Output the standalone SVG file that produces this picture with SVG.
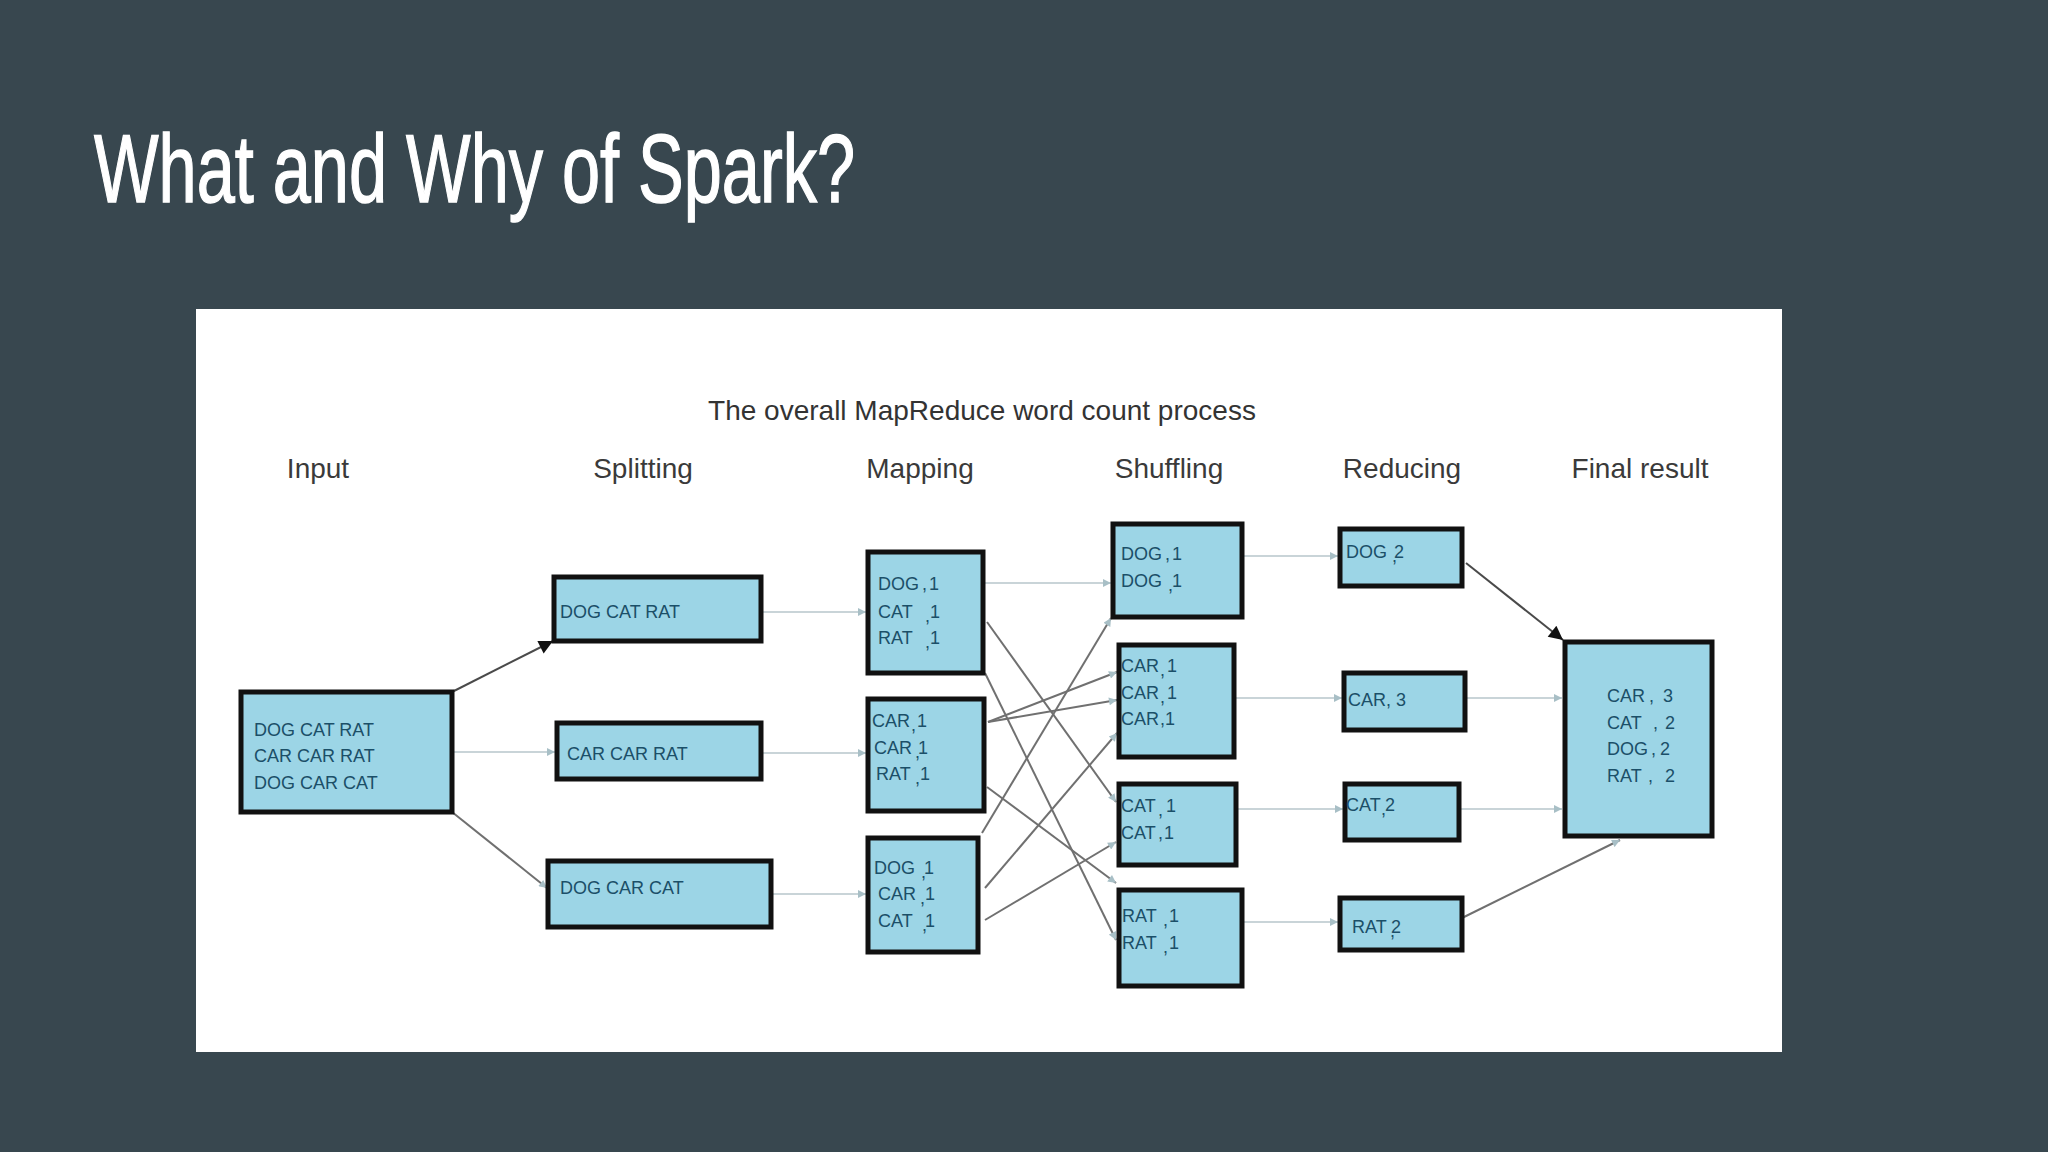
<svg xmlns="http://www.w3.org/2000/svg" width="2048" height="1152" viewBox="0 0 2048 1152">
<style>
.bg{fill:#38474f}
.panel{fill:#ffffff}
.title{font-family:"Liberation Sans",Arial,sans-serif;font-size:97px;fill:#ffffff;stroke:#ffffff;stroke-width:1.4}
.sub{font-family:"Liberation Sans",Arial,sans-serif;font-size:28px;fill:#333333;text-anchor:middle}
.hdr{font-family:"Liberation Sans",Arial,sans-serif;font-size:28px;fill:#3a3a3a;text-anchor:middle}
.box{fill:#9cd5e6;stroke:#111111;stroke-width:5}
.t{font-family:"Liberation Sans",Arial,sans-serif;font-size:18px;fill:#1b4f68}
.lt{stroke:#c9d4d8;stroke-width:2;fill:none}
.dk{stroke:#707070;stroke-width:2;fill:none}
.bk{stroke:#4a4a4a;stroke-width:2;fill:none}
</style>
<defs>
<marker id="ab" viewBox="0 0 10 10" refX="10" refY="5" markerWidth="16" markerHeight="14" markerUnits="userSpaceOnUse" orient="auto">
<path d="M0,0 L10,5 L0,10 z" fill="#111111"/>
</marker>
<marker id="al" viewBox="0 0 10 10" refX="10" refY="5" markerWidth="10" markerHeight="8" markerUnits="userSpaceOnUse" orient="auto">
<path d="M0,0 L10,5 L0,10 z" fill="#a8bfc6"/>
</marker>
</defs>
<rect class="bg" x="0" y="0" width="2048" height="1152"/>
<text class="title" x="94" y="202" textLength="761" lengthAdjust="spacingAndGlyphs">What and Why of Spark?</text>
<rect class="panel" x="196" y="309" width="1586" height="743"/>
<text class="sub" x="982" y="420">The overall MapReduce word count process</text>
<g id="headers">
<text class="hdr" x="318" y="478">Input</text>
<text class="hdr" x="643" y="478">Splitting</text>
<text class="hdr" x="920" y="478">Mapping</text>
<text class="hdr" x="1169" y="478">Shuffling</text>
<text class="hdr" x="1402" y="478">Reducing</text>
<text class="hdr" x="1640" y="478">Final result</text>
</g>
<g id="connectors">
<line class="bk" x1="452" y1="692" x2="553" y2="641" marker-end="url(#ab)"/>
<line class="lt" x1="452" y1="752" x2="555" y2="752" marker-end="url(#al)"/>
<line class="dk" x1="452" y1="812" x2="547" y2="888" marker-end="url(#al)"/>
<line class="lt" x1="762" y1="612" x2="866" y2="612" marker-end="url(#al)"/>
<line class="lt" x1="762" y1="753" x2="866" y2="753" marker-end="url(#al)"/>
<line class="lt" x1="772" y1="894" x2="866" y2="894" marker-end="url(#al)"/>
<line class="lt" x1="985" y1="583" x2="1111" y2="583" marker-end="url(#al)"/>
<line class="dk" x1="987" y1="622" x2="1116" y2="802" marker-end="url(#al)"/>
<line class="dk" x1="985" y1="673" x2="1116" y2="940" marker-end="url(#al)"/>
<line class="dk" x1="988" y1="722" x2="1117" y2="672" marker-end="url(#al)"/>
<line class="dk" x1="988" y1="722" x2="1117" y2="700" marker-end="url(#al)"/>
<line class="dk" x1="987" y1="787" x2="1116" y2="883" marker-end="url(#al)"/>
<line class="dk" x1="982" y1="833" x2="1111" y2="618" marker-end="url(#al)"/>
<line class="dk" x1="985" y1="888" x2="1117" y2="733" marker-end="url(#al)"/>
<line class="dk" x1="985" y1="920" x2="1116" y2="842" marker-end="url(#al)"/>
<line class="lt" x1="1243" y1="556" x2="1338" y2="556" marker-end="url(#al)"/>
<line class="lt" x1="1235" y1="698" x2="1342" y2="698" marker-end="url(#al)"/>
<line class="lt" x1="1237" y1="809" x2="1343" y2="809" marker-end="url(#al)"/>
<line class="lt" x1="1243" y1="922" x2="1338" y2="922" marker-end="url(#al)"/>
<line class="bk" x1="1466" y1="563" x2="1563" y2="640" marker-end="url(#ab)"/>
<line class="lt" x1="1466" y1="698" x2="1562" y2="698" marker-end="url(#al)"/>
<line class="lt" x1="1460" y1="809" x2="1562" y2="809" marker-end="url(#al)"/>
<line class="dk" x1="1462" y1="918" x2="1620" y2="840" marker-end="url(#al)"/>
</g>
<g id="input">
<rect class="box" x="241" y="692" width="211" height="120"/>
<text class="t" x="254" y="736">DOG CAT RAT</text>
<text class="t" x="254" y="762">CAR CAR RAT</text>
<text class="t" x="254" y="789">DOG CAR CAT</text>
</g>
<g id="split1">
<rect class="box" x="554" y="577" width="207" height="64"/>
<text class="t" x="560" y="618">DOG CAT RAT</text>
</g>
<g id="split2">
<rect class="box" x="557" y="723" width="204" height="56"/>
<text class="t" x="567" y="760">CAR CAR RAT</text>
</g>
<g id="split3">
<rect class="box" x="548" y="861" width="223" height="66"/>
<text class="t" x="560" y="894">DOG CAR CAT</text>
</g>
<g id="map1">
<rect class="box" x="868" y="552" width="115" height="121"/>
<text class="t" x="878" y="590">DOG<tspan x="922">,</tspan><tspan x="929">1</tspan></text>
<text class="t" x="878" y="618">CAT<tspan x="925" dy="4">,</tspan><tspan x="930" dy="-4">1</tspan></text>
<text class="t" x="878" y="644">RAT<tspan x="925" dy="4">,</tspan><tspan x="930" dy="-4">1</tspan></text>
</g>
<g id="map2">
<rect class="box" x="868" y="699" width="116" height="112"/>
<text class="t" x="872" y="727">CAR<tspan x="911" dy="4">,</tspan><tspan x="917" dy="-4">1</tspan></text>
<text class="t" x="874" y="754">CAR<tspan x="915" dy="4">,</tspan><tspan x="918" dy="-4">1</tspan></text>
<text class="t" x="876" y="780">RAT<tspan x="915" dy="4">,</tspan><tspan x="920" dy="-4">1</tspan></text>
</g>
<g id="map3">
<rect class="box" x="868" y="838" width="110" height="114"/>
<text class="t" x="874" y="874">DOG<tspan x="921" dy="4">,</tspan><tspan x="924" dy="-4">1</tspan></text>
<text class="t" x="878" y="900">CAR<tspan x="920" dy="4">,</tspan><tspan x="925" dy="-4">1</tspan></text>
<text class="t" x="878" y="927">CAT<tspan x="922" dy="4">,</tspan><tspan x="925" dy="-4">1</tspan></text>
</g>
<g id="shufDog">
<rect class="box" x="1113" y="524" width="129" height="93"/>
<text class="t" x="1121" y="560">DOG<tspan x="1165">,</tspan><tspan x="1172">1</tspan></text>
<text class="t" x="1121" y="587">DOG<tspan x="1168" dy="4">,</tspan><tspan x="1172" dy="-4">1</tspan></text>
</g>
<g id="shufCar">
<rect class="box" x="1119" y="645" width="115" height="112"/>
<text class="t" x="1121" y="672">CAR<tspan x="1160" dy="4">,</tspan><tspan x="1167" dy="-4">1</tspan></text>
<text class="t" x="1121" y="699">CAR<tspan x="1160" dy="4">,</tspan><tspan x="1167" dy="-4">1</tspan></text>
<text class="t" x="1121" y="725">CAR<tspan x="1160">,</tspan><tspan x="1165">1</tspan></text>
</g>
<g id="shufCat">
<rect class="box" x="1119" y="784" width="117" height="81"/>
<text class="t" x="1121" y="812">CAT<tspan x="1158" dy="4">,</tspan><tspan x="1166" dy="-4">1</tspan></text>
<text class="t" x="1121" y="839">CAT<tspan x="1158">,</tspan><tspan x="1164">1</tspan></text>
</g>
<g id="shufRat">
<rect class="box" x="1119" y="890" width="123" height="96"/>
<text class="t" x="1122" y="922">RAT<tspan x="1163" dy="4">,</tspan><tspan x="1169" dy="-4">1</tspan></text>
<text class="t" x="1122" y="949">RAT<tspan x="1163" dy="4">,</tspan><tspan x="1169" dy="-4">1</tspan></text>
</g>
<g id="redDog">
<rect class="box" x="1340" y="529" width="122" height="57"/>
<text class="t" x="1346" y="558">DOG<tspan x="1392" dy="4">,</tspan><tspan x="1394" dy="-4">2</tspan></text>
</g>
<g id="redCar">
<rect class="box" x="1344" y="673" width="121" height="57"/>
<text class="t" x="1348" y="706">CAR<tspan x="1386">,</tspan><tspan x="1396">3</tspan></text>
</g>
<g id="redCat">
<rect class="box" x="1345" y="784" width="114" height="56"/>
<text class="t" x="1346" y="811">CAT<tspan x="1381" dy="4">,</tspan><tspan x="1385" dy="-4">2</tspan></text>
</g>
<g id="redRat">
<rect class="box" x="1340" y="898" width="122" height="52"/>
<text class="t" x="1352" y="933">RAT<tspan x="1390" dy="4">,</tspan><tspan x="1391" dy="-4">2</tspan></text>
</g>
<g id="final">
<rect class="box" x="1565" y="642" width="147" height="194"/>
<text class="t" x="1607" y="702">CAR<tspan x="1649">,</tspan><tspan x="1663">3</tspan></text>
<text class="t" x="1607" y="729">CAT<tspan x="1653">,</tspan><tspan x="1665">2</tspan></text>
<text class="t" x="1607" y="755">DOG<tspan x="1651">,</tspan><tspan x="1660">2</tspan></text>
<text class="t" x="1607" y="782">RAT<tspan x="1648">,</tspan><tspan x="1665">2</tspan></text>
</g>
</svg>
